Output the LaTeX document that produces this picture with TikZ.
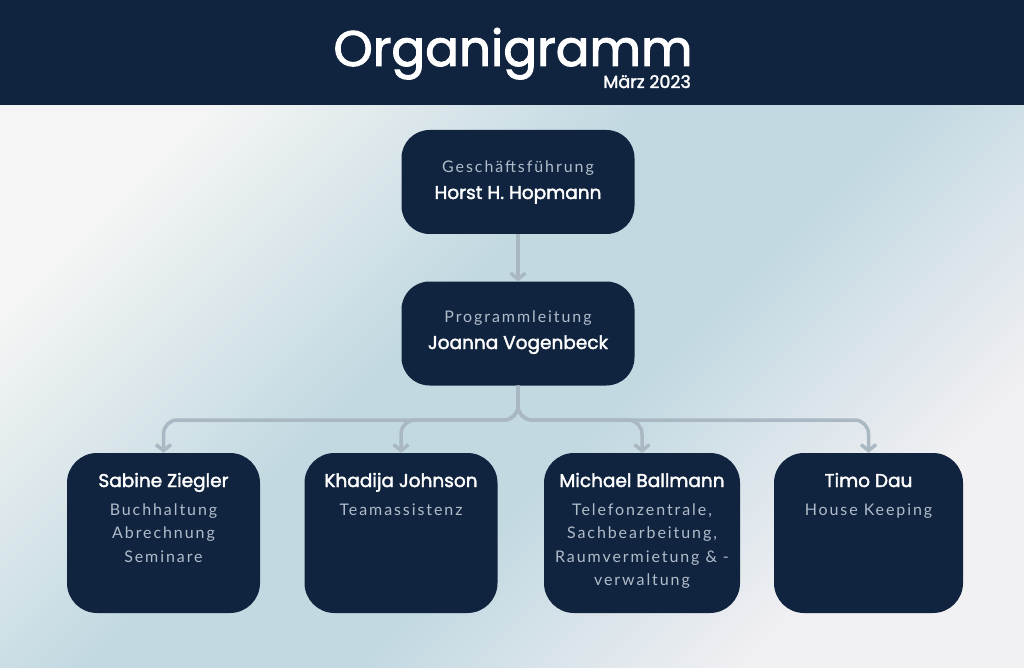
\documentclass[tikz,border=0pt]{standalone}
\usepackage{fontspec}
\setmainfont{Poppins}
\newfontfamily\headfont{Poppins}[FakeBold=2]
\newfontfamily\rolefont{Lato}[LetterSpace=12]
\usetikzlibrary{arrows.meta,positioning}
\definecolor{navy}{HTML}{11243F}
\definecolor{rolegray}{HTML}{B0BCC9}
\definecolor{linegray}{HTML}{A9B8C2}
\definecolor{bglight}{HTML}{F4F5F4}
\definecolor{bgblue}{HTML}{C3D9E2}
\definecolor{bgpale}{HTML}{F1F0F3}
\pgfdeclareverticalshading{backdrop}{100bp}{color(0bp)=(bgpale); color(27bp)=(bgpale); color(44bp)=(bgblue); color(57bp)=(bgblue); color(76bp)=(bglight); color(100bp)=(bglight)}
\begin{document}
\begin{tikzpicture}[x=1pt, y=-1pt,
    lead/.style={fill=navy, rounded corners=28pt, minimum width=233pt, minimum height=104pt, inner sep=0pt},
    team/.style={fill=navy, rounded corners=30pt, minimum width=193pt, minimum height=160pt, inner sep=0pt},
    person/.style={text=white, font=\headfont\fontsize{18.5}{20}\selectfont, anchor=base, inner sep=0pt},
    duty/.style={text=rolegray, font=\rolefont\fontsize{16}{23.5}\selectfont, align=center, inner sep=0pt},
    conn/.style={draw=linegray, line width=3.5pt, rounded corners=14pt, -{Straight Barb[length=6pt, width=15pt]}}]
  \useasboundingbox (0,0) rectangle (1024,668);
  % background and header band
  \shade[shading=backdrop, shading angle=45] (0,105) rectangle (1024,668);
  \fill[navy] (0,0) rectangle (1024,105);
  \node[text=white, font=\headfont\fontsize{50}{56}\selectfont, anchor=base, inner sep=0pt] (title) at (513,66) {Organigramm};
  \node[text=white, font=\headfont\fontsize{17.5}{18}\selectfont, anchor=base east, inner sep=0pt] (date) at (691,88) {März 2023};
  % leadership
  \node[lead] (gf) at (518,182) {};
  \node[duty, anchor=base] (gf-role) at (518,173) {Geschäftsführung};
  \node[person] (gf-name) at (518,199) {Horst H. Hopmann};
  \node[lead] (prog) at (518,333.5) {};
  \node[duty, anchor=base] (prog-role) at (518,322) {Programmleitung};
  \node[person] (prog-name) at (518,349) {Joanna Vogenbeck};
  % team
  \node[team] (sabine) at (163.5,533) {};
  \node[person] (sabine-name) at (163.5,487) {Sabine Ziegler};
  \node[duty, anchor=north] (sabine-role) at (163.5,503.5) {Buchhaltung\\Abrechnung\\Seminare};
  \node[team] (khadija) at (401,533) {};
  \node[person] (khadija-name) at (401,487) {Khadija Johnson};
  \node[duty, anchor=north] (khadija-role) at (401,503.5) {Teamassistenz};
  \node[team, minimum width=196pt] (michael) at (642,533) {};
  \node[person] (michael-name) at (642,487) {Michael Ballmann};
  \node[duty, anchor=north] (michael-role) at (642,503.5) {Telefonzentrale,\\Sachbearbeitung,\\Raumvermietung \& -\\verwaltung};
  \node[team, minimum width=189pt] (timo) at (868.5,533) {};
  \node[person] (timo-name) at (868.5,487) {Timo Dau};
  \node[duty, anchor=north] (timo-role) at (868.5,503.5) {House Keeping};
  % connectors
  \coordinate (bus) at (518,420);
  \draw[conn] (gf.south) -- (prog.north);
  \foreach \t in {sabine,khadija,michael,timo}
    \draw[conn] (prog.south) -- (bus) -| (\t.north);
\end{tikzpicture}
\end{document}
